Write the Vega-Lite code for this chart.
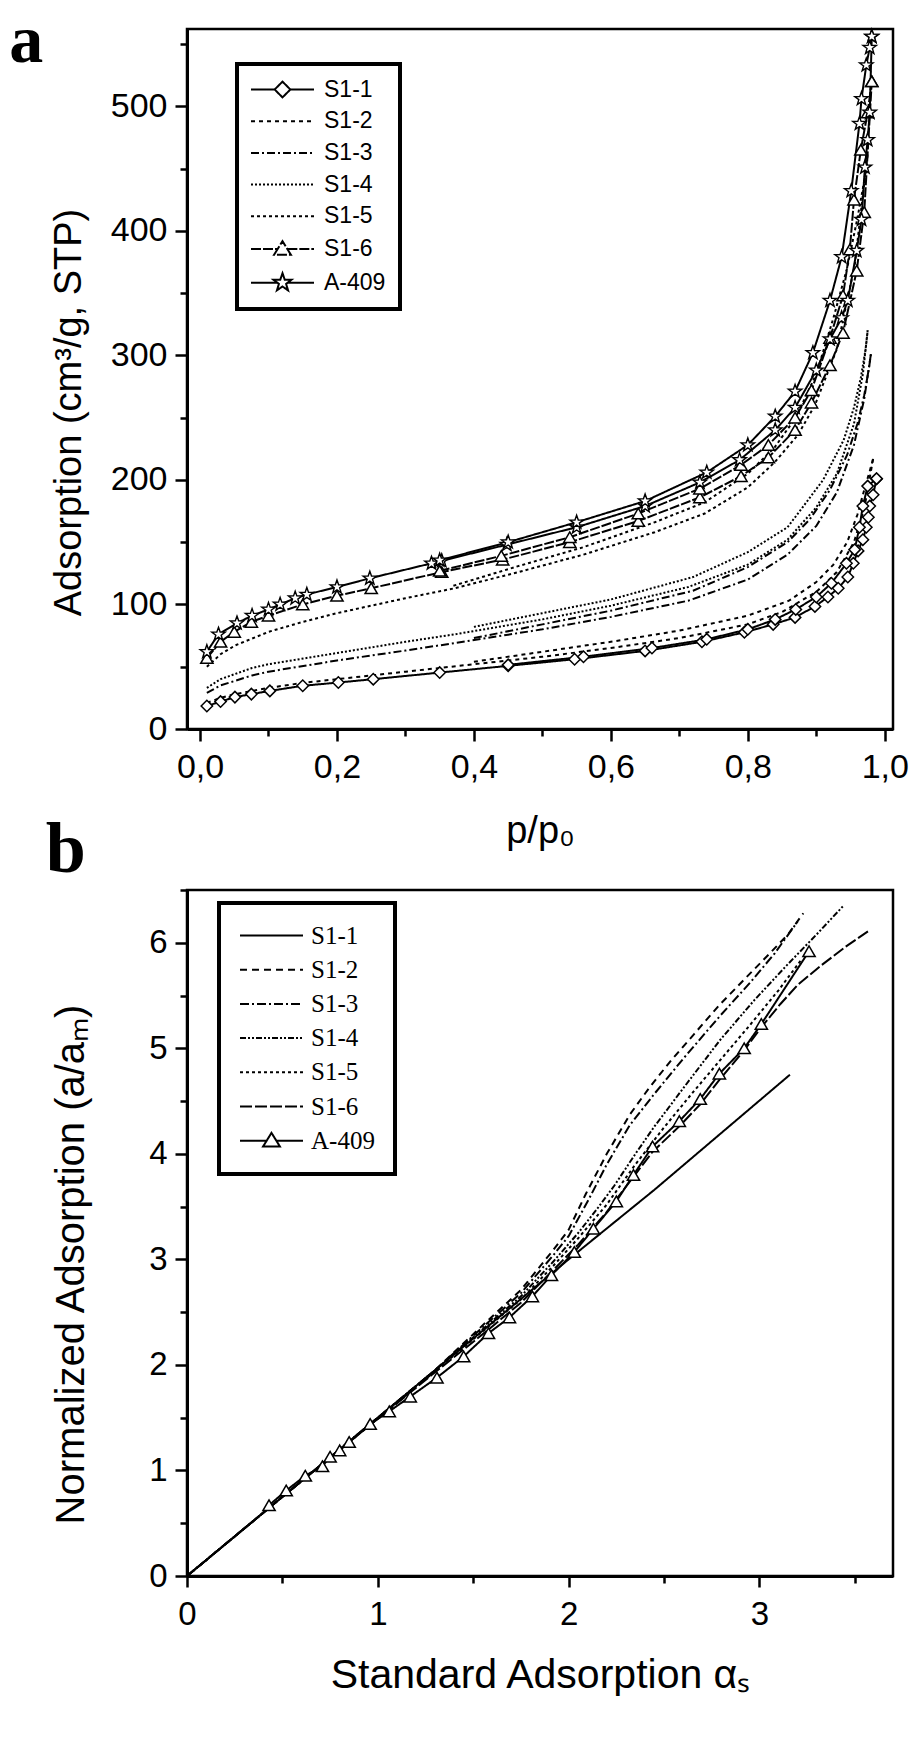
{
  "$schema": "https://vega.github.io/schema/vega-lite/v6.json",
  "background": "white",
  "padding": {"left": 8, "top": 6, "right": 5, "bottom": 5},
  "spacing": -40,
  "config": {
    "view": {"stroke": "black", "strokeWidth": 2.5},
    "axis": {"domainColor": "black", "domainWidth": 3, "tickColor": "black", "tickWidth": 2.5, "grid": false, "labelColor": "black", "titleColor": "black", "labelFont": "Liberation Sans", "titleFont": "Liberation Sans", "titleFontWeight": "normal", "labelOverlap": false, "labelFlush": false},
    "legend": {"strokeColor": "black", "strokeWidth": 4, "fillColor": "white"},
    "title": {"color": "black"}
  },
  "vconcat": [
    {
      "width": 706,
      "height": 700,
      "title": {"text": "a", "font": "Liberation Serif", "fontSize": 68, "fontWeight": "bold", "anchor": "start", "frame": "bounds", "baseline": "top", "offset": -49, "dx": -41},
      "data": {"values": [
        {"sample": "S1-1", "b": "ads", "p": 0.01, "v": 18.5}, {"sample": "S1-1", "b": "ads", "p": 0.03, "v": 22}, {"sample": "S1-1", "b": "ads", "p": 0.051, "v": 25.6}, {"sample": "S1-1", "b": "ads", "p": 0.075, "v": 28}, {"sample": "S1-1", "b": "ads", "p": 0.102, "v": 30.6}, {"sample": "S1-1", "b": "ads", "p": 0.15, "v": 34.7}, {"sample": "S1-1", "b": "ads", "p": 0.202, "v": 37.3}, {"sample": "S1-1", "b": "ads", "p": 0.253, "v": 40}, {"sample": "S1-1", "b": "ads", "p": 0.35, "v": 45.3}, {"sample": "S1-1", "b": "ads", "p": 0.45, "v": 50.7}, {"sample": "S1-1", "b": "ads", "p": 0.547, "v": 56}, {"sample": "S1-1", "b": "ads", "p": 0.65, "v": 62.7}, {"sample": "S1-1", "b": "ads", "p": 0.733, "v": 70}, {"sample": "S1-1", "b": "ads", "p": 0.795, "v": 77.6}, {"sample": "S1-1", "b": "ads", "p": 0.837, "v": 84}, {"sample": "S1-1", "b": "ads", "p": 0.869, "v": 89.6}, {"sample": "S1-1", "b": "ads", "p": 0.898, "v": 98.4}, {"sample": "S1-1", "b": "ads", "p": 0.917, "v": 106}, {"sample": "S1-1", "b": "ads", "p": 0.932, "v": 113}, {"sample": "S1-1", "b": "ads", "p": 0.946, "v": 122}, {"sample": "S1-1", "b": "ads", "p": 0.954, "v": 133}, {"sample": "S1-1", "b": "ads", "p": 0.961, "v": 143}, {"sample": "S1-1", "b": "ads", "p": 0.968, "v": 152}, {"sample": "S1-1", "b": "ads", "p": 0.973, "v": 162}, {"sample": "S1-1", "b": "ads", "p": 0.976, "v": 170}, {"sample": "S1-1", "b": "ads", "p": 0.978, "v": 179}, {"sample": "S1-1", "b": "ads", "p": 0.983, "v": 188}, {"sample": "S1-1", "b": "ads", "p": 0.988, "v": 201},
        {"sample": "S1-1", "b": "des", "p": 0.988, "v": 201}, {"sample": "S1-1", "b": "des", "p": 0.975, "v": 195}, {"sample": "S1-1", "b": "des", "p": 0.968, "v": 179}, {"sample": "S1-1", "b": "des", "p": 0.963, "v": 162}, {"sample": "S1-1", "b": "des", "p": 0.956, "v": 144}, {"sample": "S1-1", "b": "des", "p": 0.944, "v": 133}, {"sample": "S1-1", "b": "des", "p": 0.922, "v": 117}, {"sample": "S1-1", "b": "des", "p": 0.9, "v": 106}, {"sample": "S1-1", "b": "des", "p": 0.87, "v": 96}, {"sample": "S1-1", "b": "des", "p": 0.84, "v": 88}, {"sample": "S1-1", "b": "des", "p": 0.8, "v": 80}, {"sample": "S1-1", "b": "des", "p": 0.74, "v": 72}, {"sample": "S1-1", "b": "des", "p": 0.66, "v": 65}, {"sample": "S1-1", "b": "des", "p": 0.56, "v": 58}, {"sample": "S1-1", "b": "des", "p": 0.45, "v": 51.5},
        {"sample": "S1-2", "b": "ads", "p": 0.01, "v": 21}, {"sample": "S1-2", "b": "ads", "p": 0.03, "v": 25}, {"sample": "S1-2", "b": "ads", "p": 0.051, "v": 28}, {"sample": "S1-2", "b": "ads", "p": 0.1, "v": 33}, {"sample": "S1-2", "b": "ads", "p": 0.15, "v": 37}, {"sample": "S1-2", "b": "ads", "p": 0.2, "v": 40}, {"sample": "S1-2", "b": "ads", "p": 0.3, "v": 46}, {"sample": "S1-2", "b": "ads", "p": 0.4, "v": 52}, {"sample": "S1-2", "b": "ads", "p": 0.5, "v": 58}, {"sample": "S1-2", "b": "ads", "p": 0.6, "v": 65}, {"sample": "S1-2", "b": "ads", "p": 0.7, "v": 73}, {"sample": "S1-2", "b": "ads", "p": 0.8, "v": 84}, {"sample": "S1-2", "b": "ads", "p": 0.85, "v": 94}, {"sample": "S1-2", "b": "ads", "p": 0.9, "v": 110}, {"sample": "S1-2", "b": "ads", "p": 0.93, "v": 126}, {"sample": "S1-2", "b": "ads", "p": 0.955, "v": 150}, {"sample": "S1-2", "b": "ads", "p": 0.97, "v": 177}, {"sample": "S1-2", "b": "ads", "p": 0.983, "v": 217},
        {"sample": "S1-2", "b": "des", "p": 0.983, "v": 217}, {"sample": "S1-2", "b": "des", "p": 0.978, "v": 207}, {"sample": "S1-2", "b": "des", "p": 0.97, "v": 192}, {"sample": "S1-2", "b": "des", "p": 0.96, "v": 172}, {"sample": "S1-2", "b": "des", "p": 0.945, "v": 150}, {"sample": "S1-2", "b": "des", "p": 0.925, "v": 132}, {"sample": "S1-2", "b": "des", "p": 0.9, "v": 118}, {"sample": "S1-2", "b": "des", "p": 0.86, "v": 103}, {"sample": "S1-2", "b": "des", "p": 0.8, "v": 91}, {"sample": "S1-2", "b": "des", "p": 0.7, "v": 79}, {"sample": "S1-2", "b": "des", "p": 0.6, "v": 70}, {"sample": "S1-2", "b": "des", "p": 0.5, "v": 62}, {"sample": "S1-2", "b": "des", "p": 0.4, "v": 54},
        {"sample": "S1-3", "b": "ads", "p": 0.01, "v": 29}, {"sample": "S1-3", "b": "ads", "p": 0.03, "v": 35}, {"sample": "S1-3", "b": "ads", "p": 0.076, "v": 43}, {"sample": "S1-3", "b": "ads", "p": 0.1, "v": 46}, {"sample": "S1-3", "b": "ads", "p": 0.2, "v": 55}, {"sample": "S1-3", "b": "ads", "p": 0.3, "v": 63}, {"sample": "S1-3", "b": "ads", "p": 0.372, "v": 69}, {"sample": "S1-3", "b": "ads", "p": 0.5, "v": 80}, {"sample": "S1-3", "b": "ads", "p": 0.6, "v": 90}, {"sample": "S1-3", "b": "ads", "p": 0.713, "v": 103}, {"sample": "S1-3", "b": "ads", "p": 0.8, "v": 120}, {"sample": "S1-3", "b": "ads", "p": 0.858, "v": 140}, {"sample": "S1-3", "b": "ads", "p": 0.9, "v": 163}, {"sample": "S1-3", "b": "ads", "p": 0.93, "v": 190}, {"sample": "S1-3", "b": "ads", "p": 0.955, "v": 228}, {"sample": "S1-3", "b": "ads", "p": 0.97, "v": 265}, {"sample": "S1-3", "b": "ads", "p": 0.98, "v": 302},
        {"sample": "S1-3", "b": "des", "p": 0.98, "v": 302}, {"sample": "S1-3", "b": "des", "p": 0.977, "v": 290}, {"sample": "S1-3", "b": "des", "p": 0.97, "v": 268}, {"sample": "S1-3", "b": "des", "p": 0.96, "v": 245}, {"sample": "S1-3", "b": "des", "p": 0.945, "v": 220}, {"sample": "S1-3", "b": "des", "p": 0.92, "v": 192}, {"sample": "S1-3", "b": "des", "p": 0.89, "v": 168}, {"sample": "S1-3", "b": "des", "p": 0.858, "v": 150}, {"sample": "S1-3", "b": "des", "p": 0.8, "v": 130}, {"sample": "S1-3", "b": "des", "p": 0.72, "v": 111}, {"sample": "S1-3", "b": "des", "p": 0.6, "v": 95}, {"sample": "S1-3", "b": "des", "p": 0.5, "v": 84}, {"sample": "S1-3", "b": "des", "p": 0.4, "v": 73},
        {"sample": "S1-4", "b": "ads", "p": 0.01, "v": 33}, {"sample": "S1-4", "b": "ads", "p": 0.03, "v": 40}, {"sample": "S1-4", "b": "ads", "p": 0.076, "v": 49}, {"sample": "S1-4", "b": "ads", "p": 0.1, "v": 52}, {"sample": "S1-4", "b": "ads", "p": 0.2, "v": 61}, {"sample": "S1-4", "b": "ads", "p": 0.3, "v": 70}, {"sample": "S1-4", "b": "ads", "p": 0.372, "v": 76}, {"sample": "S1-4", "b": "ads", "p": 0.5, "v": 88}, {"sample": "S1-4", "b": "ads", "p": 0.6, "v": 99}, {"sample": "S1-4", "b": "ads", "p": 0.713, "v": 114}, {"sample": "S1-4", "b": "ads", "p": 0.8, "v": 132}, {"sample": "S1-4", "b": "ads", "p": 0.858, "v": 152}, {"sample": "S1-4", "b": "ads", "p": 0.9, "v": 178}, {"sample": "S1-4", "b": "ads", "p": 0.93, "v": 205}, {"sample": "S1-4", "b": "ads", "p": 0.955, "v": 245}, {"sample": "S1-4", "b": "ads", "p": 0.968, "v": 285}, {"sample": "S1-4", "b": "ads", "p": 0.975, "v": 320},
        {"sample": "S1-4", "b": "des", "p": 0.975, "v": 320}, {"sample": "S1-4", "b": "des", "p": 0.972, "v": 305}, {"sample": "S1-4", "b": "des", "p": 0.965, "v": 282}, {"sample": "S1-4", "b": "des", "p": 0.955, "v": 258}, {"sample": "S1-4", "b": "des", "p": 0.94, "v": 232}, {"sample": "S1-4", "b": "des", "p": 0.91, "v": 200}, {"sample": "S1-4", "b": "des", "p": 0.88, "v": 178}, {"sample": "S1-4", "b": "des", "p": 0.858, "v": 162}, {"sample": "S1-4", "b": "des", "p": 0.8, "v": 142}, {"sample": "S1-4", "b": "des", "p": 0.72, "v": 122}, {"sample": "S1-4", "b": "des", "p": 0.6, "v": 104}, {"sample": "S1-4", "b": "des", "p": 0.5, "v": 93}, {"sample": "S1-4", "b": "des", "p": 0.4, "v": 82},
        {"sample": "S1-5", "b": "ads", "p": 0.01, "v": 50}, {"sample": "S1-5", "b": "ads", "p": 0.03, "v": 60}, {"sample": "S1-5", "b": "ads", "p": 0.051, "v": 67}, {"sample": "S1-5", "b": "ads", "p": 0.1, "v": 78}, {"sample": "S1-5", "b": "ads", "p": 0.15, "v": 86}, {"sample": "S1-5", "b": "ads", "p": 0.2, "v": 93}, {"sample": "S1-5", "b": "ads", "p": 0.3, "v": 105}, {"sample": "S1-5", "b": "ads", "p": 0.372, "v": 113}, {"sample": "S1-5", "b": "ads", "p": 0.465, "v": 126}, {"sample": "S1-5", "b": "ads", "p": 0.56, "v": 140}, {"sample": "S1-5", "b": "ads", "p": 0.664, "v": 158}, {"sample": "S1-5", "b": "ads", "p": 0.737, "v": 173}, {"sample": "S1-5", "b": "ads", "p": 0.8, "v": 194}, {"sample": "S1-5", "b": "ads", "p": 0.839, "v": 214}, {"sample": "S1-5", "b": "ads", "p": 0.873, "v": 236}, {"sample": "S1-5", "b": "ads", "p": 0.898, "v": 260}, {"sample": "S1-5", "b": "ads", "p": 0.93, "v": 305}, {"sample": "S1-5", "b": "ads", "p": 0.956, "v": 372}, {"sample": "S1-5", "b": "ads", "p": 0.975, "v": 462},
        {"sample": "S1-5", "b": "des", "p": 0.975, "v": 462}, {"sample": "S1-5", "b": "des", "p": 0.97, "v": 440}, {"sample": "S1-5", "b": "des", "p": 0.96, "v": 410}, {"sample": "S1-5", "b": "des", "p": 0.945, "v": 370}, {"sample": "S1-5", "b": "des", "p": 0.925, "v": 330}, {"sample": "S1-5", "b": "des", "p": 0.9, "v": 285}, {"sample": "S1-5", "b": "des", "p": 0.87, "v": 250}, {"sample": "S1-5", "b": "des", "p": 0.839, "v": 226}, {"sample": "S1-5", "b": "des", "p": 0.8, "v": 205}, {"sample": "S1-5", "b": "des", "p": 0.737, "v": 182}, {"sample": "S1-5", "b": "des", "p": 0.664, "v": 166}, {"sample": "S1-5", "b": "des", "p": 0.56, "v": 146}, {"sample": "S1-5", "b": "des", "p": 0.46, "v": 130}, {"sample": "S1-5", "b": "des", "p": 0.37, "v": 115},
        {"sample": "S1-6", "b": "ads", "p": 0.01, "v": 57}, {"sample": "S1-6", "b": "ads", "p": 0.03, "v": 70}, {"sample": "S1-6", "b": "ads", "p": 0.05, "v": 78}, {"sample": "S1-6", "b": "ads", "p": 0.075, "v": 86}, {"sample": "S1-6", "b": "ads", "p": 0.1, "v": 91}, {"sample": "S1-6", "b": "ads", "p": 0.15, "v": 100}, {"sample": "S1-6", "b": "ads", "p": 0.2, "v": 107}, {"sample": "S1-6", "b": "ads", "p": 0.25, "v": 113}, {"sample": "S1-6", "b": "ads", "p": 0.353, "v": 126}, {"sample": "S1-6", "b": "ads", "p": 0.442, "v": 136}, {"sample": "S1-6", "b": "ads", "p": 0.54, "v": 150}, {"sample": "S1-6", "b": "ads", "p": 0.64, "v": 167}, {"sample": "S1-6", "b": "ads", "p": 0.73, "v": 186}, {"sample": "S1-6", "b": "ads", "p": 0.79, "v": 203}, {"sample": "S1-6", "b": "ads", "p": 0.83, "v": 218}, {"sample": "S1-6", "b": "ads", "p": 0.869, "v": 240}, {"sample": "S1-6", "b": "ads", "p": 0.893, "v": 262}, {"sample": "S1-6", "b": "ads", "p": 0.92, "v": 292}, {"sample": "S1-6", "b": "ads", "p": 0.939, "v": 318}, {"sample": "S1-6", "b": "ads", "p": 0.959, "v": 368}, {"sample": "S1-6", "b": "ads", "p": 0.97, "v": 415}, {"sample": "S1-6", "b": "ads", "p": 0.981, "v": 520},
        {"sample": "S1-6", "b": "des", "p": 0.981, "v": 520}, {"sample": "S1-6", "b": "des", "p": 0.975, "v": 495}, {"sample": "S1-6", "b": "des", "p": 0.965, "v": 465}, {"sample": "S1-6", "b": "des", "p": 0.955, "v": 425}, {"sample": "S1-6", "b": "des", "p": 0.949, "v": 385}, {"sample": "S1-6", "b": "des", "p": 0.939, "v": 348}, {"sample": "S1-6", "b": "des", "p": 0.92, "v": 314}, {"sample": "S1-6", "b": "des", "p": 0.893, "v": 272}, {"sample": "S1-6", "b": "des", "p": 0.869, "v": 250}, {"sample": "S1-6", "b": "des", "p": 0.83, "v": 228}, {"sample": "S1-6", "b": "des", "p": 0.79, "v": 212}, {"sample": "S1-6", "b": "des", "p": 0.73, "v": 193}, {"sample": "S1-6", "b": "des", "p": 0.64, "v": 173}, {"sample": "S1-6", "b": "des", "p": 0.54, "v": 154}, {"sample": "S1-6", "b": "des", "p": 0.44, "v": 139}, {"sample": "S1-6", "b": "des", "p": 0.35, "v": 127},
        {"sample": "A-409", "b": "ads", "p": 0.01, "v": 62}, {"sample": "A-409", "b": "ads", "p": 0.027, "v": 76}, {"sample": "A-409", "b": "ads", "p": 0.054, "v": 85}, {"sample": "A-409", "b": "ads", "p": 0.076, "v": 91}, {"sample": "A-409", "b": "ads", "p": 0.1, "v": 96}, {"sample": "A-409", "b": "ads", "p": 0.117, "v": 100}, {"sample": "A-409", "b": "ads", "p": 0.139, "v": 105}, {"sample": "A-409", "b": "ads", "p": 0.156, "v": 108}, {"sample": "A-409", "b": "ads", "p": 0.2, "v": 114}, {"sample": "A-409", "b": "ads", "p": 0.248, "v": 121}, {"sample": "A-409", "b": "ads", "p": 0.338, "v": 133}, {"sample": "A-409", "b": "ads", "p": 0.353, "v": 135}, {"sample": "A-409", "b": "ads", "p": 0.448, "v": 148}, {"sample": "A-409", "b": "ads", "p": 0.55, "v": 162}, {"sample": "A-409", "b": "ads", "p": 0.65, "v": 179}, {"sample": "A-409", "b": "ads", "p": 0.73, "v": 198}, {"sample": "A-409", "b": "ads", "p": 0.788, "v": 216}, {"sample": "A-409", "b": "ads", "p": 0.84, "v": 240}, {"sample": "A-409", "b": "ads", "p": 0.869, "v": 258}, {"sample": "A-409", "b": "ads", "p": 0.9, "v": 288}, {"sample": "A-409", "b": "ads", "p": 0.92, "v": 313}, {"sample": "A-409", "b": "ads", "p": 0.937, "v": 330}, {"sample": "A-409", "b": "ads", "p": 0.946, "v": 344}, {"sample": "A-409", "b": "ads", "p": 0.959, "v": 384}, {"sample": "A-409", "b": "ads", "p": 0.966, "v": 409}, {"sample": "A-409", "b": "ads", "p": 0.971, "v": 451}, {"sample": "A-409", "b": "ads", "p": 0.975, "v": 473}, {"sample": "A-409", "b": "ads", "p": 0.978, "v": 495}, {"sample": "A-409", "b": "ads", "p": 0.981, "v": 556},
        {"sample": "A-409", "b": "des", "p": 0.981, "v": 556}, {"sample": "A-409", "b": "des", "p": 0.978, "v": 547}, {"sample": "A-409", "b": "des", "p": 0.973, "v": 533}, {"sample": "A-409", "b": "des", "p": 0.966, "v": 506}, {"sample": "A-409", "b": "des", "p": 0.963, "v": 486}, {"sample": "A-409", "b": "des", "p": 0.951, "v": 432}, {"sample": "A-409", "b": "des", "p": 0.937, "v": 379}, {"sample": "A-409", "b": "des", "p": 0.92, "v": 344}, {"sample": "A-409", "b": "des", "p": 0.895, "v": 302}, {"sample": "A-409", "b": "des", "p": 0.869, "v": 271}, {"sample": "A-409", "b": "des", "p": 0.84, "v": 251}, {"sample": "A-409", "b": "des", "p": 0.8, "v": 228}, {"sample": "A-409", "b": "des", "p": 0.74, "v": 206}, {"sample": "A-409", "b": "des", "p": 0.65, "v": 183}, {"sample": "A-409", "b": "des", "p": 0.55, "v": 166}, {"sample": "A-409", "b": "des", "p": 0.45, "v": 150}, {"sample": "A-409", "b": "des", "p": 0.35, "v": 135.5}
      ]},
      "encoding": {
        "x": {"field": "p", "type": "quantitative", "scale": {"domain": [-0.019, 1.012], "nice": false, "zero": false},
          "axis": {"values": [0, 0.1, 0.2, 0.3, 0.4, 0.5, 0.6, 0.7, 0.8, 0.9, 1],
            "labelExpr": "round(datum.value * 10) % 2 == 1 ? '' : replace(format(datum.value, '.1f'), '.', ',')",
            "tickSize": {"condition": {"test": "round(datum.value * 10) % 2 == 1", "value": 7}, "value": 12},
            "title": "p/p₀", "labelPadding": 9, "titlePadding": 28, "labelFontSize": 34, "titleFontSize": 38}},
        "y": {"field": "v", "type": "quantitative", "scale": {"domain": [0, 562], "nice": false},
          "axis": {"values": [0, 50, 100, 150, 200, 250, 300, 350, 400, 450, 500, 550],
            "labelExpr": "datum.value % 100 == 50 ? '' : datum.label",
            "tickSize": {"condition": {"test": "datum.value % 100 == 50", "value": 7}, "value": 12},
            "title": "Adsorption  (cm³/g, STP)", "labelPadding": 8, "titlePadding": 22, "labelFontSize": 34, "titleFontSize": 38, "titleY": 383}}
      },
      "layer": [
        {
          "mark": {"type": "line", "color": "black", "strokeWidth": 2},
          "encoding": {
            "detail": {"field": "b", "type": "nominal"},
            "strokeDash": {"field": "sample", "type": "nominal",
              "scale": {"domain": ["S1-1", "S1-2", "S1-3", "S1-4", "S1-5", "S1-6", "A-409"], "range": [[1, 0], [4, 4], [8, 3, 2, 3], [2, 2], [3, 3], [10, 2], [1, 0]]},
              "legend": {"title": null, "orient": "none", "legendX": 50, "legendY": 35, "symbolSize": 441, "symbolStrokeWidth": 2, "symbolStrokeColor": "black", "symbolOffset": 20, "labelOffset": 30, "labelFont": "Liberation Sans", "labelFontSize": 23, "labelColor": "black", "rowPadding": 7.7, "padding": 14}}
          }
        },
        {
          "transform": [{"filter": "datum.sample === 'S1-1'"}],
          "mark": {"type": "point", "shape": "diamond", "filled": true, "fill": "white", "stroke": "black", "strokeWidth": 1.5, "size": 130, "opacity": 1},
          "encoding": {}
        },
        {
          "transform": [{"filter": "datum.sample === 'S1-6'"}],
          "mark": {"type": "point", "shape": "triangle-up", "filled": true, "fill": "white", "stroke": "black", "strokeWidth": 1.5, "size": 150, "opacity": 1},
          "encoding": {}
        },
        {
          "transform": [{"filter": "datum.sample === 'A-409'"}],
          "mark": {"type": "point", "shape": "M0,-1L0.235,-0.324L0.951,-0.309L0.38,0.124L0.588,0.809L0,0.4L-0.588,0.809L-0.38,0.124L-0.951,-0.309L-0.235,-0.324Z", "filled": true, "fill": "white", "stroke": "black", "strokeWidth": 1.4, "size": 200, "opacity": 1},
          "encoding": {}
        },
        {
          "transform": [{"filter": "false"}],
          "mark": {"type": "point", "filled": false, "stroke": "black", "strokeWidth": 2, "size": 441, "opacity": 1},
          "encoding": {
            "shape": {"field": "sample", "type": "nominal",
              "scale": {"domain": ["S1-1", "S1-2", "S1-3", "S1-4", "S1-5", "S1-6", "A-409"],
                "range": [
                  "M-3,0H-0.75M-0.75,0L0,-0.75L0.75,0L0,0.75ZM0.75,0H3",
                  "M-3,0H3", "M-3,0H3", "M-3,0H3", "M-3,0H3",
                  "M-3,0H-0.46M-0.8,0.55L0,-0.75L0.8,0.55ZM0.46,0H3",
                  "M-3,0H-0.49M0,-0.9L0.212,-0.291L0.856,-0.278L0.342,0.111L0.529,0.728L0,0.36L-0.529,0.728L-0.342,0.111L-0.856,-0.278L-0.212,-0.291ZM0.49,0H3"]},
              "legend": {"title": null, "orient": "none", "legendX": 50, "legendY": 35, "symbolSize": 441, "symbolStrokeWidth": 2, "symbolStrokeColor": "black", "symbolOffset": 20, "labelOffset": 30, "labelFont": "Liberation Sans", "labelFontSize": 23, "labelColor": "black", "rowPadding": 7.7, "padding": 14}},
            "strokeDash": {"field": "sample", "type": "nominal",
              "scale": {"domain": ["S1-1", "S1-2", "S1-3", "S1-4", "S1-5", "S1-6", "A-409"], "range": [[1, 0], [4, 4], [8, 3, 2, 3], [2, 2], [3, 3], [10, 2], [1, 0]]},
              "legend": {"title": null, "orient": "none", "legendX": 50, "legendY": 35, "symbolSize": 441, "symbolStrokeWidth": 2, "symbolStrokeColor": "black", "symbolOffset": 20, "labelOffset": 30, "labelFont": "Liberation Sans", "labelFontSize": 23, "labelColor": "black", "rowPadding": 7.7, "padding": 14}}
          }
        }
      ]
    },
    {
      "width": 706,
      "height": 686,
      "title": {"text": "b", "font": "Liberation Serif", "fontSize": 72, "fontWeight": "bold", "anchor": "start", "frame": "bounds", "baseline": "alphabetic", "offset": -70, "dx": -6},
      "data": {"values": [
        {"sample": "S1-1", "a": 0, "n": 0}, {"sample": "S1-1", "a": 1.0, "n": 1.5}, {"sample": "S1-1", "a": 2.0, "n": 3.0}, {"sample": "S1-1", "a": 2.45, "n": 3.66}, {"sample": "S1-1", "a": 3.16, "n": 4.75},
        {"sample": "S1-2", "a": 0, "n": 0}, {"sample": "S1-2", "a": 0.5, "n": 0.75}, {"sample": "S1-2", "a": 1.0, "n": 1.5}, {"sample": "S1-2", "a": 1.3, "n": 1.95}, {"sample": "S1-2", "a": 1.57, "n": 2.41}, {"sample": "S1-2", "a": 1.75, "n": 2.71}, {"sample": "S1-2", "a": 1.92, "n": 3.09}, {"sample": "S1-2", "a": 2.0, "n": 3.28}, {"sample": "S1-2", "a": 2.09, "n": 3.62}, {"sample": "S1-2", "a": 2.2, "n": 4.0}, {"sample": "S1-2", "a": 2.32, "n": 4.37}, {"sample": "S1-2", "a": 2.42, "n": 4.62}, {"sample": "S1-2", "a": 2.53, "n": 4.87}, {"sample": "S1-2", "a": 2.66, "n": 5.14}, {"sample": "S1-2", "a": 2.79, "n": 5.41}, {"sample": "S1-2", "a": 2.93, "n": 5.67}, {"sample": "S1-2", "a": 3.06, "n": 5.91}, {"sample": "S1-2", "a": 3.15, "n": 6.08}, {"sample": "S1-2", "a": 3.23, "n": 6.28},
        {"sample": "S1-3", "a": 0, "n": 0}, {"sample": "S1-3", "a": 0.5, "n": 0.75}, {"sample": "S1-3", "a": 1.0, "n": 1.5}, {"sample": "S1-3", "a": 1.3, "n": 1.95}, {"sample": "S1-3", "a": 1.57, "n": 2.39}, {"sample": "S1-3", "a": 1.75, "n": 2.68}, {"sample": "S1-3", "a": 1.92, "n": 3.04}, {"sample": "S1-3", "a": 2.0, "n": 3.22}, {"sample": "S1-3", "a": 2.1, "n": 3.55}, {"sample": "S1-3", "a": 2.2, "n": 3.9}, {"sample": "S1-3", "a": 2.32, "n": 4.27}, {"sample": "S1-3", "a": 2.45, "n": 4.57}, {"sample": "S1-3", "a": 2.6, "n": 4.9}, {"sample": "S1-3", "a": 2.79, "n": 5.3}, {"sample": "S1-3", "a": 2.95, "n": 5.62}, {"sample": "S1-3", "a": 3.08, "n": 5.9}, {"sample": "S1-3", "a": 3.2, "n": 6.2},
        {"sample": "S1-4", "a": 0, "n": 0}, {"sample": "S1-4", "a": 0.5, "n": 0.75}, {"sample": "S1-4", "a": 1.0, "n": 1.5}, {"sample": "S1-4", "a": 1.3, "n": 1.95}, {"sample": "S1-4", "a": 1.57, "n": 2.37}, {"sample": "S1-4", "a": 1.75, "n": 2.65}, {"sample": "S1-4", "a": 1.92, "n": 2.98}, {"sample": "S1-4", "a": 2.05, "n": 3.25}, {"sample": "S1-4", "a": 2.15, "n": 3.48}, {"sample": "S1-4", "a": 2.24, "n": 3.7}, {"sample": "S1-4", "a": 2.35, "n": 4.0}, {"sample": "S1-4", "a": 2.45, "n": 4.26}, {"sample": "S1-4", "a": 2.6, "n": 4.62}, {"sample": "S1-4", "a": 2.79, "n": 5.07}, {"sample": "S1-4", "a": 2.97, "n": 5.45}, {"sample": "S1-4", "a": 3.14, "n": 5.78}, {"sample": "S1-4", "a": 3.3, "n": 6.08}, {"sample": "S1-4", "a": 3.44, "n": 6.35},
        {"sample": "S1-5", "a": 0, "n": 0}, {"sample": "S1-5", "a": 0.5, "n": 0.75}, {"sample": "S1-5", "a": 1.0, "n": 1.49}, {"sample": "S1-5", "a": 1.3, "n": 1.94}, {"sample": "S1-5", "a": 1.57, "n": 2.35}, {"sample": "S1-5", "a": 1.75, "n": 2.62}, {"sample": "S1-5", "a": 1.92, "n": 2.94}, {"sample": "S1-5", "a": 2.05, "n": 3.2}, {"sample": "S1-5", "a": 2.2, "n": 3.52}, {"sample": "S1-5", "a": 2.35, "n": 3.9}, {"sample": "S1-5", "a": 2.5, "n": 4.25}, {"sample": "S1-5", "a": 2.65, "n": 4.58}, {"sample": "S1-5", "a": 2.8, "n": 4.9}, {"sample": "S1-5", "a": 2.95, "n": 5.22}, {"sample": "S1-5", "a": 3.1, "n": 5.55}, {"sample": "S1-5", "a": 3.22, "n": 5.84},
        {"sample": "S1-6", "a": 0, "n": 0}, {"sample": "S1-6", "a": 0.5, "n": 0.75}, {"sample": "S1-6", "a": 1.0, "n": 1.49}, {"sample": "S1-6", "a": 1.3, "n": 1.93}, {"sample": "S1-6", "a": 1.57, "n": 2.32}, {"sample": "S1-6", "a": 1.75, "n": 2.59}, {"sample": "S1-6", "a": 1.92, "n": 2.9}, {"sample": "S1-6", "a": 2.05, "n": 3.14}, {"sample": "S1-6", "a": 2.2, "n": 3.45}, {"sample": "S1-6", "a": 2.44, "n": 4.02}, {"sample": "S1-6", "a": 2.58, "n": 4.26}, {"sample": "S1-6", "a": 2.69, "n": 4.47}, {"sample": "S1-6", "a": 2.79, "n": 4.7}, {"sample": "S1-6", "a": 2.92, "n": 4.98}, {"sample": "S1-6", "a": 3.01, "n": 5.2}, {"sample": "S1-6", "a": 3.11, "n": 5.42}, {"sample": "S1-6", "a": 3.2, "n": 5.6}, {"sample": "S1-6", "a": 3.32, "n": 5.78}, {"sample": "S1-6", "a": 3.45, "n": 5.96}, {"sample": "S1-6", "a": 3.57, "n": 6.11},
        {"sample": "A-409", "a": 0.43, "n": 0.67}, {"sample": "A-409", "a": 0.52, "n": 0.81}, {"sample": "A-409", "a": 0.62, "n": 0.95}, {"sample": "A-409", "a": 0.71, "n": 1.04}, {"sample": "A-409", "a": 0.75, "n": 1.13}, {"sample": "A-409", "a": 0.8, "n": 1.19}, {"sample": "A-409", "a": 0.85, "n": 1.27}, {"sample": "A-409", "a": 0.96, "n": 1.44}, {"sample": "A-409", "a": 1.06, "n": 1.56}, {"sample": "A-409", "a": 1.17, "n": 1.7}, {"sample": "A-409", "a": 1.31, "n": 1.88}, {"sample": "A-409", "a": 1.45, "n": 2.08}, {"sample": "A-409", "a": 1.58, "n": 2.3}, {"sample": "A-409", "a": 1.69, "n": 2.45}, {"sample": "A-409", "a": 1.81, "n": 2.65}, {"sample": "A-409", "a": 1.91, "n": 2.85}, {"sample": "A-409", "a": 2.03, "n": 3.07}, {"sample": "A-409", "a": 2.13, "n": 3.29}, {"sample": "A-409", "a": 2.25, "n": 3.55}, {"sample": "A-409", "a": 2.34, "n": 3.8}, {"sample": "A-409", "a": 2.44, "n": 4.07}, {"sample": "A-409", "a": 2.58, "n": 4.31}, {"sample": "A-409", "a": 2.69, "n": 4.52}, {"sample": "A-409", "a": 2.79, "n": 4.76}, {"sample": "A-409", "a": 2.92, "n": 5.0}, {"sample": "A-409", "a": 3.01, "n": 5.23}, {"sample": "A-409", "a": 3.26, "n": 5.92}
      ]},
      "encoding": {
        "x": {"field": "a", "type": "quantitative", "scale": {"domain": [0, 3.7], "nice": false},
          "axis": {"values": [0, 0.5, 1, 1.5, 2, 2.5, 3, 3.5],
            "labelExpr": "datum.value % 1 == 0.5 ? '' : format(datum.value, 'd')",
            "tickSize": {"condition": {"test": "datum.value % 1 == 0.5", "value": 7}, "value": 11},
            "title": "Standard  Adsorption  αₛ", "labelPadding": 11, "titlePadding": 24, "labelFontSize": 33, "titleFontSize": 41}},
        "y": {"field": "n", "type": "quantitative", "scale": {"domain": [0, 6.5], "nice": false},
          "axis": {"values": [0, 0.5, 1, 1.5, 2, 2.5, 3, 3.5, 4, 4.5, 5, 5.5, 6, 6.5],
            "labelExpr": "datum.value % 1 == 0.5 ? '' : format(datum.value, 'd')",
            "tickSize": {"condition": {"test": "datum.value % 1 == 0.5", "value": 7}, "value": 12},
            "title": "Normalized Adsorption  (a/aₘ)", "labelPadding": 8, "titlePadding": 57, "labelFontSize": 33, "titleFontSize": 40, "titleY": 374}}
      },
      "layer": [
        {
          "mark": {"type": "line", "color": "black", "strokeWidth": 2},
          "encoding": {
            "strokeDash": {"field": "sample", "type": "nominal",
              "scale": {"domain": ["S1-1", "S1-2", "S1-3", "S1-4", "S1-5", "S1-6", "A-409"], "range": [[1, 0], [7, 5], [9, 3, 2, 3], [6, 2, 2, 2, 2, 2], [3, 3], [12, 3], [1, 0]]},
              "legend": {"title": null, "orient": "none", "legendX": 32, "legendY": 13, "symbolSize": 441, "symbolStrokeWidth": 2, "symbolStrokeColor": "black", "symbolOffset": 20, "labelOffset": 27, "labelFont": "Liberation Serif", "labelFontSize": 25, "labelColor": "black", "rowPadding": 8.2, "padding": 20}}
          }
        },
        {
          "transform": [{"filter": "datum.sample === 'A-409'"}],
          "mark": {"type": "point", "shape": "triangle-up", "filled": true, "fill": "white", "stroke": "black", "strokeWidth": 1.5, "size": 150, "opacity": 1},
          "encoding": {}
        },
        {
          "transform": [{"filter": "false"}],
          "mark": {"type": "point", "filled": false, "stroke": "black", "strokeWidth": 2, "size": 441, "opacity": 1},
          "encoding": {
            "shape": {"field": "sample", "type": "nominal",
              "scale": {"domain": ["S1-1", "S1-2", "S1-3", "S1-4", "S1-5", "S1-6", "A-409"],
                "range": ["M-3,0H3", "M-3,0H3", "M-3,0H3", "M-3,0H3", "M-3,0H3", "M-3,0H3",
                  "M-3,0H-0.46M-0.8,0.55L0,-0.75L0.8,0.55ZM0.46,0H3"]},
              "legend": {"title": null, "orient": "none", "legendX": 32, "legendY": 13, "symbolSize": 441, "symbolStrokeWidth": 2, "symbolStrokeColor": "black", "symbolOffset": 20, "labelOffset": 27, "labelFont": "Liberation Serif", "labelFontSize": 25, "labelColor": "black", "rowPadding": 8.2, "padding": 20}},
            "strokeDash": {"field": "sample", "type": "nominal",
              "scale": {"domain": ["S1-1", "S1-2", "S1-3", "S1-4", "S1-5", "S1-6", "A-409"], "range": [[1, 0], [7, 5], [9, 3, 2, 3], [6, 2, 2, 2, 2, 2], [3, 3], [12, 3], [1, 0]]},
              "legend": {"title": null, "orient": "none", "legendX": 32, "legendY": 13, "symbolSize": 441, "symbolStrokeWidth": 2, "symbolStrokeColor": "black", "symbolOffset": 20, "labelOffset": 27, "labelFont": "Liberation Serif", "labelFontSize": 25, "labelColor": "black", "rowPadding": 8.2, "padding": 20}}
          }
        }
      ]
    }
  ],
  "resolve": {"scale": {"x": "independent", "y": "independent", "strokeDash": "independent", "shape": "independent"}, "legend": {"strokeDash": "independent", "shape": "independent"}}
}
